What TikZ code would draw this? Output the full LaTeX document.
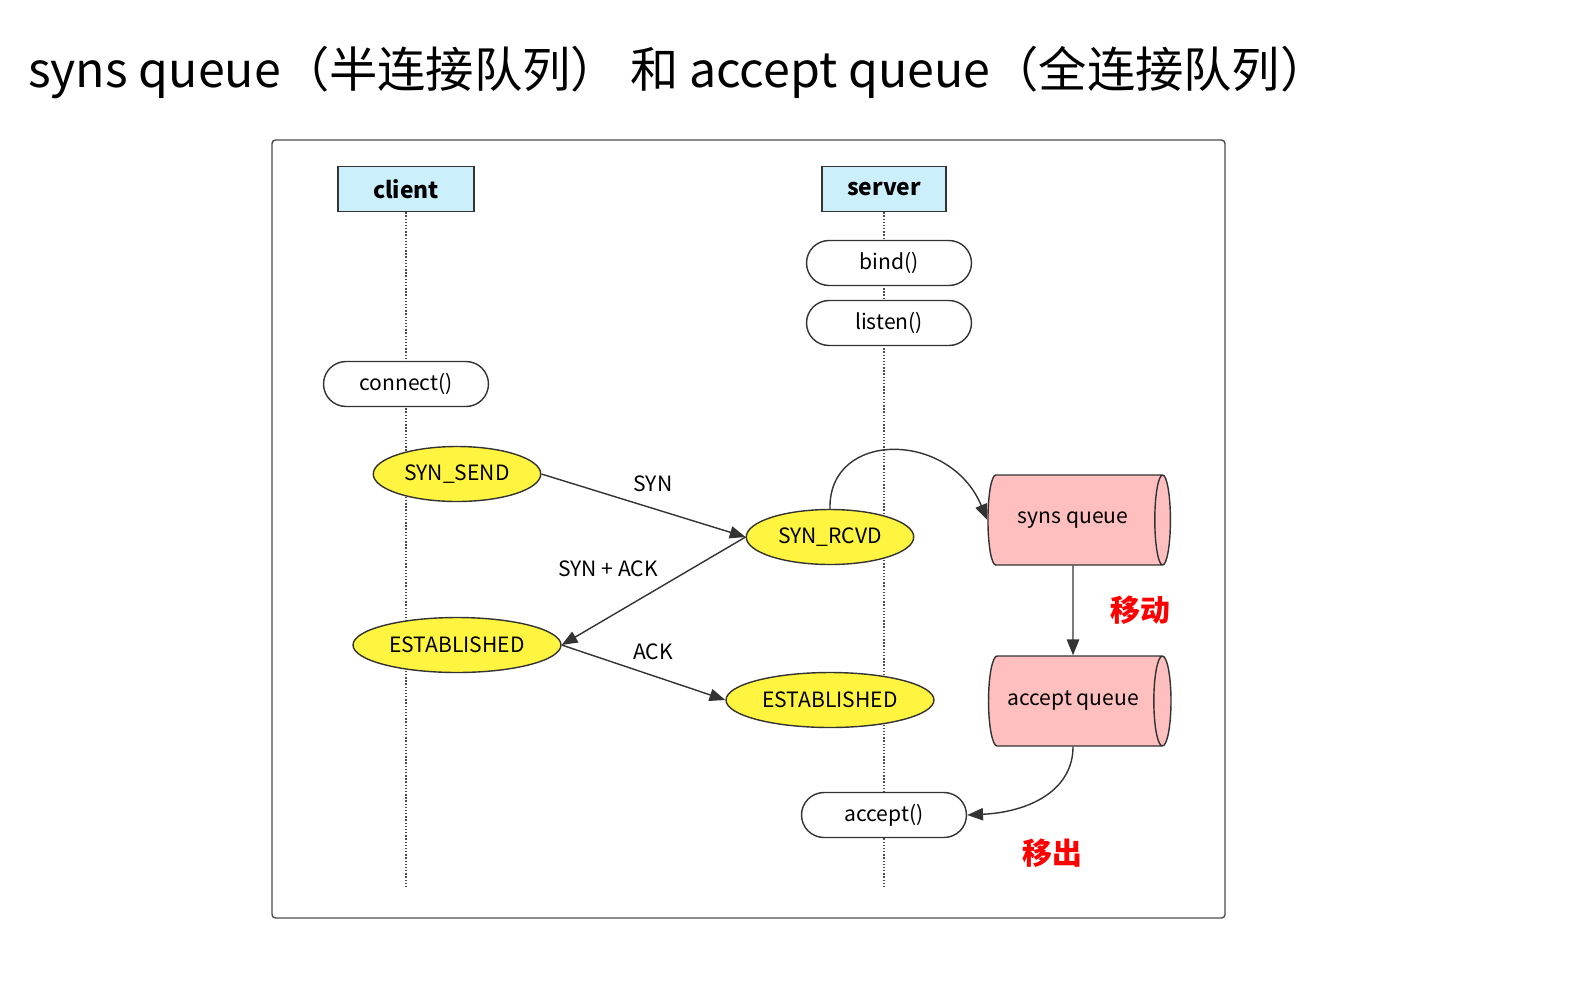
\documentclass[tikz,border=0pt]{standalone}
\usepackage{fontspec}
\setmainfont{Noto Sans CJK SC}
\usetikzlibrary{shapes.geometric,arrows.meta}
\tikzset{
  actor/.style={draw=black!80, thick, fill=cyan!20, minimum width=2.6cm, minimum height=0.9cm, font=\fontsize{13}{15}\selectfont\bfseries},
  call/.style={draw=black!80, thick, fill=white, rounded corners=0.45cm, minimum width=3.3cm, minimum height=0.9cm, font=\fontsize{12}{14}\selectfont},
  state/.style={draw=black!80, thick, ellipse, fill=yellow!75, minimum width=3.35cm, minimum height=1.1cm, font=\fontsize{12}{14}\selectfont},
  queue/.style={draw=black!80, thick, cylinder, shape aspect=0.55, fill=red!25, minimum width=1.8cm, minimum height=3.65cm, font=\fontsize{12}{14}\selectfont},
  msg/.style={draw=black!80, thick, -{Triangle[length=9pt,width=7pt]}},
  tag/.style={font=\fontsize{12}{14}\selectfont},
  note/.style={text=red, font=\fontsize{17}{19}\selectfont\bfseries},
  life/.style={densely dotted, thick, black!70}
}
\begin{document}
\begin{tikzpicture}[x=0.02cm, y=-0.02cm]
  \useasboundingbox (0,0) rectangle (1593,995);
  % title
  \node[anchor=west, font=\fontsize{27.5}{30}\selectfont] (title) at (22,72)
    {syns queue（半连接队列） 和 accept queue（全连接队列）};
  % frame
  \draw[black!70, thick, rounded corners=2pt] (272,140) rectangle (1225,918);

  % actors and lifelines
  \node[actor, minimum width=2.72cm] (client) at (406,189) {client};
  \node[actor, minimum width=2.48cm] (server) at (884,189) {server};
  \coordinate (cend) at (406,888);
  \coordinate (send) at (884,888);
  \draw[life] (client) -- (cend);
  \draw[life] (server) -- (send);

  % calls
  \node[call] (bind) at (889,263) {bind()};
  \node[call] (listen) at (889,323) {listen()};
  \node[call] (connect) at (406,384) {connect()};
  \node[call] (accept) at (884,815) {accept()};

  % states
  \node[state] (synsend) at (457,474) {SYN\_SEND};
  \node[state] (synrcvd) at (830,537) {SYN\_RCVD};
  \node[state] (cest) at (457,645) {ESTABLISHED};
  \node[state] (sest) at (830,700) {ESTABLISHED};

  % queues
  \node[queue] (synq) at (1073,520) {syns queue};
  \node[queue] (accq) at (1073,701) {accept queue};

  % messages
  \draw[msg] (synsend.east) -- (synrcvd.west);
  \draw[msg] (synrcvd.west) -- (cest.east);
  \draw[msg] (cest.east) -- (sest.west);
  \node[tag] (lsyn) at (653,484) {SYN};
  \node[tag] (lsynack) at (608,569) {SYN + ACK};
  \node[tag] (lack) at (653,652) {ACK};

  % queue moves
  \draw[msg] (synrcvd.north) .. controls (828,430) and (950,430) .. (synq.west);
  \draw[msg] (synq.south) -- (accq.north);
  \draw[msg] (accq.south) .. controls (1073,790) and (1030,812) .. (accept.east);
  \node[note] (move) at (1140,610) {移动};
  \node[note] (out) at (1052,853) {移出};
\end{tikzpicture}
\end{document}
